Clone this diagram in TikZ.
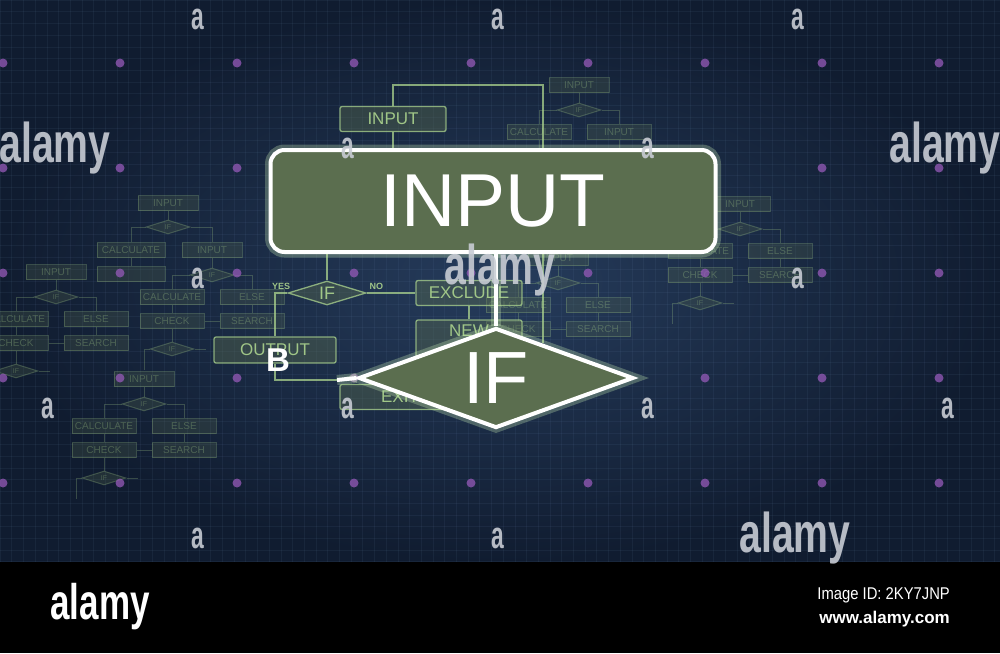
\documentclass[tikz,border=0pt]{standalone}
\usepackage{fontspec}
\setmainfont{Liberation Sans}
\usetikzlibrary{shapes.geometric}
\definecolor{bgmid}{RGB}{38,60,92}
\definecolor{bgedge}{RGB}{16,28,48}
\definecolor{gridcol}{RGB}{110,140,180}
\definecolor{dotcol}{RGB}{150,90,185}
\definecolor{boxgreen}{RGB}{91,110,79}
\definecolor{linegreen}{RGB}{172,212,142}
\definecolor{glowgreen}{RGB}{200,235,180}
\definecolor{markgray}{RGB}{200,204,212}

\tikzset{
  faintbox/.style={draw=linegreen, draw opacity=0.26, fill=boxgreen, fill opacity=0.25, text=linegreen, text opacity=0.3, font=\fontsize{10}{10}\selectfont, minimum width=64pt, minimum height=15pt, inner sep=0pt, line width=1pt},
  faintif/.style={diamond, draw=linegreen, draw opacity=0.26, fill=boxgreen, fill opacity=0.25, text=linegreen, text opacity=0.3, font=\fontsize{7}{7}\selectfont, minimum width=44pt, minimum height=14pt, inner sep=0pt, line width=1pt},
  faintline/.style={draw=linegreen, draw opacity=0.26, line width=1pt},
  midbox/.style={draw=linegreen, draw opacity=0.75, line width=1.3pt, rounded corners=2pt, fill=boxgreen, fill opacity=0.4, text=linegreen, text opacity=0.9, font=\fontsize{17}{20}\selectfont, inner sep=0pt, minimum height=25pt, align=center},
  midif/.style={diamond, aspect=3.25, draw=linegreen, draw opacity=0.75, line width=1.3pt, fill=boxgreen, fill opacity=0.4, text=linegreen, text opacity=0.9, font=\fontsize{18}{18}\selectfont, inner sep=0pt, minimum width=78pt, minimum height=24pt},
  midline/.style={draw=linegreen, draw opacity=0.75, line width=1.3pt},
  lbl/.style={text=linegreen, text opacity=0.9, font=\fontsize{9}{9}\selectfont\bfseries, inner sep=1pt},
  bigbox/.style={draw=white, line width=4pt, rounded corners=14pt, fill=boxgreen, text=white, font=\fontsize{75}{75}\selectfont, inner sep=0pt, preaction={draw=glowgreen, line width=11pt, draw opacity=0.3}},
  bigif/.style={diamond, aspect=2.75, draw=white, line width=4pt, fill=boxgreen, text=white, font=\fontsize{74}{74}\selectfont, inner sep=0pt, preaction={draw=glowgreen, line width=11pt, draw opacity=0.3}},
  bigline/.style={draw=white, line width=4pt, preaction={draw=glowgreen, line width=10pt, draw opacity=0.3}},
  markbig/.style={text=markgray, text opacity=0.9, font=\fontsize{56}{56}\selectfont\bfseries, inner sep=0pt},
  marksmall/.style={text=markgray, text opacity=0.9, font=\fontsize{38}{38}\selectfont\bfseries, inner sep=0pt},
  pics/minichart/.style={code={
    \node[faintbox, minimum width=60pt] (-in) at (0,0) {INPUT};
    \node[faintif] (-if) at (0,25) {IF};
    \node[faintbox] (-l1) at (-40,47) {CALCULATE};
    \node[faintbox] (-r1) at (40,47) {#1};
    \node[faintbox] (-l2) at (-40,71) {CHECK};
    \node[faintbox] (-r2) at (40,71) {SEARCH};
    \node[faintif] (-if2) at (-40,99) {IF};
    \coordinate (-down) at (-68,120);
    \coordinate (-out) at (-6,99);
    \draw[faintline] (-in) -- (-if);
    \draw[faintline] (-if.west) -| (-l1);
    \draw[faintline] (-if.east) -| (-r1);
    \draw[faintline] (-l1) -- (-l2);
    \draw[faintline] (-r1) -- (-r2);
    \draw[faintline] (-l2) -- (-r2);
    \draw[faintline] (-l2) -- (-if2);
    \draw[faintline] (-if2.west) -| (-down);
    \draw[faintline] (-if2.east) -- (-out);
  }}
}

\begin{document}
\begin{tikzpicture}[x=1pt, y=-1pt]
\useasboundingbox (0,0) rectangle (1000,653);

% backdrop
\shade[inner color=bgmid, outer color=bgedge] (0,0) rectangle (1000,562);
\foreach \gx in {0,11.7,...,1000}
  \draw[gridcol, opacity=0.09, line width=0.5pt] (\gx,0) -- (\gx,562);
\foreach \gy in {0,11.7,...,562}
  \draw[gridcol, opacity=0.09, line width=0.5pt] (0,\gy) -- (1000,\gy);
\fill[black] (0,562) rectangle (1000,653);

% faint charts in the back
\pic (c1) at (144,379) {minichart=ELSE};
\pic (c2) at (56,272) {minichart=ELSE};
\pic (c3) at (212,250) {minichart=ELSE};
\pic (c4) at (740,204) {minichart=ELSE};
\pic (c5) at (558,258) {minichart=ELSE};
\pic (c6) at (579,85) {minichart=INPUT};
\node[faintbox, minimum width=60pt] (tlin) at (168,203) {INPUT};
\node[faintif] (tlif) at (168,227) {IF};
\node[faintbox, minimum width=68pt] (tlcalc) at (131,250) {CALCULATE};
\node[faintbox, minimum width=68pt] (tlblank) at (131,274) {};
\draw[faintline] (tlin) -- (tlif);
\draw[faintline] (tlif.west) -| (tlcalc);
\draw[faintline] (tlif.east) -| (c3-in);
\draw[faintline] (tlcalc) -- (tlblank);

% dots
\foreach \dx in {3,120,237,354,471,588,705,822,939}
  \foreach \dy in {63,168,273,378,483}
    \fill[dotcol, opacity=0.75] (\dx,\dy) circle (4.5);

% middle layer
\node[midbox, minimum width=106pt] (midin) at (393,119) {INPUT};
\node[midif] (midif) at (327,293) {IF};
\node[midbox, minimum width=106pt] (exclude) at (469,293) {EXCLUDE};
\node[midbox, minimum width=106pt, minimum height=42pt] (newitem) at (469,341) {NEW\\ITEM};
\node[midbox, minimum width=122pt, minimum height=26pt] (output) at (275,350) {OUTPUT};
\node[midbox, minimum width=120pt] (exit) at (400,397) {EXIT};
\coordinate (looptop) at (543,85);
\coordinate (loopend) at (543,343);
\coordinate (stub) at (337,380);
\draw[midline] (midin.north) |- (looptop) -- (loopend);
\draw[midline] (midin.south) -- (midin.south |- 0,150);
\draw[midline] (midif.north) -- (midif.north |- 0,252);
\draw[midline] (midif.west) -| node[lbl, pos=0.25, above=2pt] {YES} (output.north);
\draw[midline] (midif.east) -- node[lbl, pos=0.2, above=2pt] {NO} (exclude.west);
\draw[midline] (exclude) -- (newitem);
\draw[midline] (output.south) |- (stub);

% front layer
\node[bigbox, minimum width=445pt, minimum height=102pt] (bigin) at (493,201) {INPUT};
\node[bigif, minimum width=275pt, minimum height=100pt] (bigif) at (496,378) {IF};
\draw[bigline] (bigif.north |- bigin.south) -- (bigif.north);
\draw[bigline] (bigif.west) -- (stub);
\node[text=white, font=\fontsize{33}{33}\selectfont\bfseries, inner sep=0pt] (blabel) at (278,360) {B};

% stock marks
\node[markbig] (mk1) at (55,148) {\scalebox{0.7}[1]{alamy}};
\node[markbig] (mk2) at (945,148) {\scalebox{0.7}[1]{alamy}};
\node[markbig] (mk3) at (500,270) {\scalebox{0.7}[1]{alamy}};
\node[markbig] (mk4) at (795,538) {\scalebox{0.7}[1]{alamy}};
\foreach \mx/\my in {198/19,498/19,798/19,348/148,648/148,198/278,798/278,48/408,348/408,648/408,948/408,198/538,498/538}
  \node[marksmall] at (\mx,\my) {\scalebox{0.6}[1]{a}};
\node[text=white, font=\fontsize{50}{50}\selectfont\bfseries, inner sep=0pt] (logo) at (100,607) {\scalebox{0.7}[1]{alamy}};
\node[anchor=east, text=white, font=\fontsize{17}{17}\selectfont, inner sep=0pt] (imgid) at (950,595) {\scalebox{0.87}[1]{Image ID: 2KY7JNP}};
\node[anchor=east, text=white, font=\fontsize{17}{17}\selectfont\bfseries, inner sep=0pt] (www) at (950,619) {www.alamy.com};
\end{tikzpicture}
\end{document}
